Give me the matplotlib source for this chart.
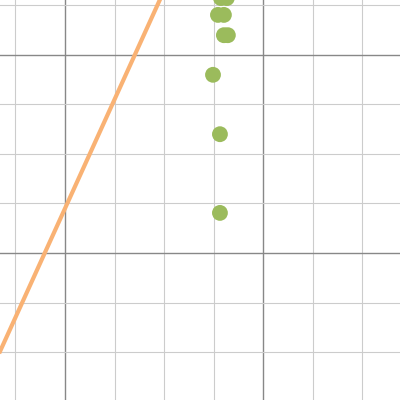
import matplotlib
matplotlib.use("Agg")
import matplotlib.pyplot as plt
import numpy as np

pts_x = [3.13, 3.13, 2.99, 3.21, 3.29, 3.09, 3.21, 3.15, 3.27]
pts_y = [0.81, 2.40, 3.60, 4.40, 4.40, 4.81, 4.81, 5.15, 5.15]
line_slope = 2.2
line_intercept = 0.9

fig = plt.figure(figsize=(4, 4), dpi=100)
ax = fig.add_axes([0, 0, 1, 1])
xmin, xmax = -65/49.5, 335/49.5
ymin, ymax = -147/49.5, 253/49.5
ax.set_xlim(xmin, xmax); ax.set_ylim(ymin, ymax)
for v in np.arange(-1, 7):
    ax.axvline(v, color='#888' if v % 4 == 0 else '#ccc', lw=1.0 if v % 4 == 0 else 0.8, zorder=0)
for v in np.arange(-2, 6):
    ax.axhline(v, color='#888' if v % 4 == 0 else '#ccc', lw=1.0 if v % 4 == 0 else 0.8, zorder=0)
xs = np.array([xmin, xmax])
ax.plot(xs, line_slope*xs + line_intercept, color='#f9b274', lw=3, zorder=2)
ax.scatter(pts_x, pts_y, s=130, color='#9bbb5c', zorder=3, edgecolors='none')
ax.axis('off')
fig.savefig("out.png")
